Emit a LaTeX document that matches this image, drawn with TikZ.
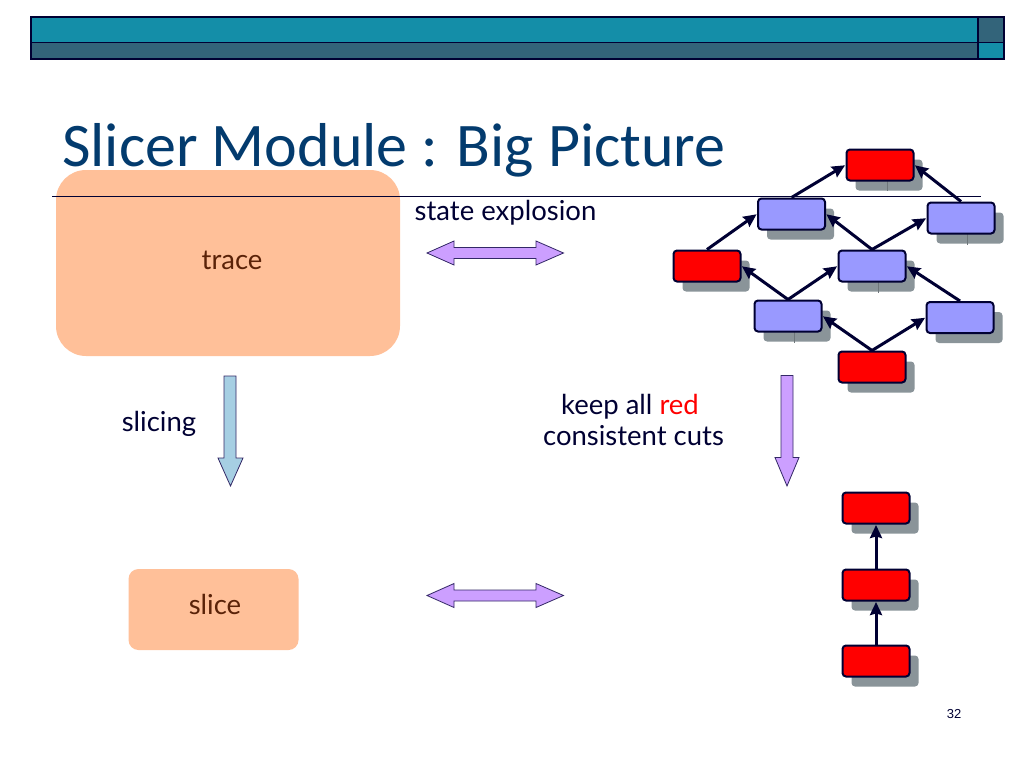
\documentclass[tikz,border=0pt]{standalone}
\usepackage{fontspec}
\setmainfont{Lato}
\newfontfamily\titlefont{Carlito}
\newfontfamily\numfont{Liberation Sans}
\usetikzlibrary{arrows.meta}
\definecolor{ink}{HTML}{000033}
\definecolor{teal}{HTML}{148EA8}
\definecolor{slate}{HTML}{33647A}
\definecolor{titleblue}{HTML}{033B6E}
\definecolor{peach}{HTML}{FFC099}
\definecolor{brownink}{HTML}{5A2208}
\definecolor{lilac}{HTML}{CC9FFF}
\definecolor{skyfill}{HTML}{A6CFE3}
\definecolor{periw}{HTML}{9999FF}
\definecolor{shade}{HTML}{8A9499}
\tikzset{
  x=1pt,y=-1pt,
  cell/.style={minimum width=67pt,minimum height=31pt,inner sep=0pt,rounded corners=3.5pt,draw=ink,line width=2pt},
  redcell/.style={cell,fill=red},
  bluecell/.style={cell,fill=periw},
  link/.style={draw=ink,line width=3pt,-{Stealth[length=13pt,width=12pt,inset=1.5pt]},shorten >=0.5pt},
  cast/.style={draw=none,fill=shade,rounded corners=3.5pt},
  hair/.style={draw=shade!80!black,line width=0.5pt},
  blockarrow/.style={draw=ink!75!lilac,line width=0.8pt,line join=miter},
  bartile/.style={draw=ink,line width=1.1pt},
  lab/.style={inner sep=0pt,anchor=base,font=\fontsize{27.5}{32}\selectfont,text=ink},
}
\newcommand{\castbox}[2]{\fill[cast] (#1-33.5+9,#2-15.5+10) rectangle ++(67,31);}
\begin{document}
\begin{tikzpicture}
\useasboundingbox (0,0) rectangle (1024,768);
\fill[white] (0,0) rectangle (1024,768);
% top bar
\filldraw[bartile,fill=teal] (31,17) rectangle (978,42.5);
\filldraw[bartile,fill=slate] (978,17) rectangle (1004,42.5);
\filldraw[bartile,fill=slate] (31,42.5) rectangle (978,59);
\filldraw[bartile,fill=teal] (978,42.5) rectangle (1004,59);
% title
\node[inner sep=0pt,anchor=base west,text=titleblue,font=\titlefont\fontsize{62}{68}\selectfont] (title) at (62,166) {Slicer Module : Big Picture};
% panels
\node[fill=peach,rounded corners=30pt,minimum width=344pt,minimum height=186pt,inner sep=0pt] (trace) at (228,263) {};
\node[lab,text=brownink] (tracetxt) at (232,269) {trace};
\node[fill=peach,rounded corners=10pt,minimum width=170pt,minimum height=81pt,inner sep=0pt] (slice) at (213.5,609.5) {};
\node[lab,text=brownink] (slicetxt) at (215,614) {slice};
% rule
\draw[ink,line width=1pt] (52,196) -- (981,196);
% labels
\node[lab] (state) at (505.5,220) {state explosion};
\node[lab] (slicing) at (159,431) {slicing};
\node[lab] (keep) at (630,414) {keep all \textcolor{red}{red}};
\node[lab] (cuts) at (633.5,445) {consistent cuts};
\node[inner sep=0pt,anchor=base,font=\numfont\fontsize{13}{15}\selectfont,text=ink] (num) at (954,718) {32};
% block arrows
\filldraw[blockarrow,fill=lilac] (427,253) -- (454,241) -- (454,247.5) -- (536,247.5) -- (536,241) -- (563.5,253) -- (536,265) -- (536,258.5) -- (454,258.5) -- (454,265) -- cycle;
\filldraw[blockarrow,fill=lilac] (427,595.5) -- (454,583.5) -- (454,590) -- (536,590) -- (536,583.5) -- (563.5,595.5) -- (536,607.5) -- (536,601) -- (454,601) -- (454,607.5) -- cycle;
\filldraw[blockarrow,fill=skyfill] (224,376) -- (236,376) -- (236,458) -- (243,458) -- (230.5,486) -- (218,458) -- (224,458) -- cycle;
\filldraw[blockarrow,fill=lilac] (781,375.5) -- (793,375.5) -- (793,457.5) -- (799,457.5) -- (787,486) -- (775,457.5) -- (781,457.5) -- cycle;
% shadows
\castbox{880}{165}\castbox{791.5}{214}\castbox{961}{218}\castbox{707}{266}\castbox{872}{266}\castbox{788}{316}\castbox{960}{317.5}\castbox{872}{367}
\castbox{876}{508}\castbox{876}{585}\castbox{876}{661}
\draw[hair] (887,180) -- (887,191);
\draw[hair] (967,233) -- (967,245);
\draw[hair] (878,281) -- (878,293);
\draw[hair] (794,331) -- (794,343);
% lattice
\node[redcell] (top) at (880,165) {};
\node[bluecell] (up) at (791.5,214) {};
\node[bluecell] (ur) at (961,218) {};
\node[redcell] (ml) at (707,266) {};
\node[bluecell] (mc) at (872,266) {};
\node[bluecell] (lo) at (788,316) {};
\node[bluecell] (lr) at (960,317.5) {};
\node[redcell] (bot) at (872,367) {};
\draw[link] (bot.north) -- (lo.east);
\draw[link] (bot.north) -- (lr.west);
\draw[link] (lo.north) -- (ml.east);
\draw[link] (lo.north) -- (mc.west);
\draw[link] (lr.north) -- (mc.east);
\draw[link] (ml.north) -- (up.west);
\draw[link] (mc.north) -- (up.east);
\draw[link] (mc.north) -- (ur.west);
\draw[link] (up.north) -- (top.west);
\draw[link] (ur.north) -- (top.east);
% chain
\node[redcell] (c1) at (876,508) {};
\node[redcell] (c2) at (876,585) {};
\node[redcell] (c3) at (876,661) {};
\draw[link] (c3.north) -- (c2.south);
\draw[link] (c2.north) -- (c1.south);
\end{tikzpicture}
\end{document}
